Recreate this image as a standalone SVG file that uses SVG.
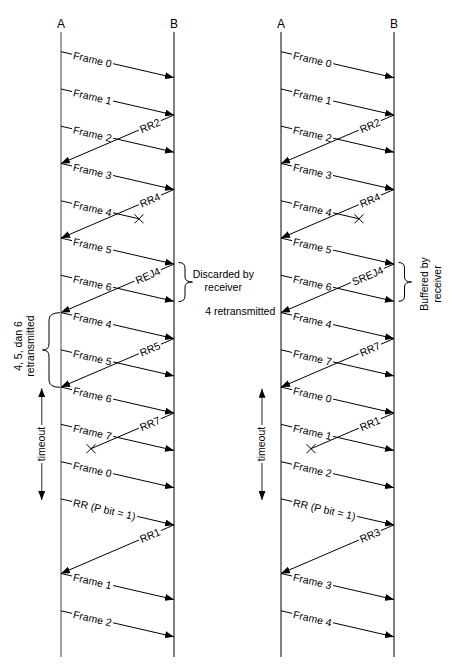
<svg xmlns="http://www.w3.org/2000/svg" width="454" height="669" viewBox="0 0 454 669">
<style>
.lbl{font-family:"Liberation Sans",Arial,sans-serif;font-size:10.5px;fill:#000}
.hd{font-family:"Liberation Sans",Arial,sans-serif;font-size:12px;fill:#000;text-anchor:middle}
.ln{stroke:#000;stroke-width:1;fill:none}
.ar{stroke:#000;stroke-width:1;fill:none;marker-end:url(#ah)}
.tm{stroke:#666;stroke-width:1.4;fill:none;marker-end:url(#ah)}
.bg{fill:#fff}
.mid{text-anchor:middle}
.end{text-anchor:end}
</style>
<defs>
<marker id="ah" markerUnits="userSpaceOnUse" markerWidth="9" markerHeight="7" refX="9" refY="3.5" orient="auto"><path d="M0,0 L9,3.5 L0,7 z" fill="#000"/></marker>
</defs>
<rect width="454" height="669" fill="#fff"/>

<!-- lifelines -->
<g id="left-A"><text class="hd" x="61" y="28.3">A</text><line x1="61" y1="32" x2="61" y2="657" stroke="#7a7a7a" stroke-width="1.4"/></g>
<g id="left-B"><text class="hd" x="174" y="28.3">B</text><line class="ln" x1="174" y1="32" x2="174" y2="657"/></g>
<g id="right-A"><text class="hd" x="281" y="28.3">A</text><line class="ln" x1="281" y1="32" x2="281" y2="657"/></g>
<g id="right-B"><text class="hd" x="394" y="28.3">B</text><line class="ln" x1="394" y1="32" x2="394" y2="657"/></g>

<!-- connectors -->
<g id="connectors">
<!-- left frames -->
<line class="ar" x1="61" y1="51.7" x2="174" y2="77.7"/>
<line class="ar" x1="61" y1="89" x2="174" y2="115"/>
<line class="ar" x1="61" y1="126.2" x2="174" y2="152.2"/>
<line class="ar" x1="61" y1="163.5" x2="174" y2="189.5"/>
<line class="ln" x1="61" y1="200.8" x2="139" y2="218.8"/>
<line class="ar" x1="61" y1="238.1" x2="174" y2="264.1"/>
<line class="ar" x1="61" y1="275.3" x2="174" y2="301.3"/>
<line class="ar" x1="61" y1="312.6" x2="174" y2="338.6"/>
<line class="ar" x1="61" y1="349.9" x2="174" y2="375.9"/>
<line class="ar" x1="61" y1="387.1" x2="174" y2="413.1"/>
<line class="ar" x1="61" y1="424.4" x2="174" y2="450.4"/>
<line class="ar" x1="61" y1="461.7" x2="174" y2="487.7"/>
<line class="ar" x1="61" y1="498.9" x2="174" y2="524.9"/>
<line class="ar" x1="61" y1="573.5" x2="174" y2="599.5"/>
<line class="ar" x1="61" y1="610.8" x2="174" y2="636.8"/>
<!-- left responses -->
<line class="ar" x1="174" y1="115" x2="61" y2="163.5"/>
<line class="ar" x1="174" y1="189.5" x2="61" y2="238.1"/>
<line class="ar" x1="174" y1="264.1" x2="61" y2="312.6"/>
<line class="ar" x1="174" y1="338.6" x2="61" y2="387.1"/>
<line class="ln" x1="174" y1="413.1" x2="91" y2="448.7"/>
<line class="ar" x1="174" y1="524.9" x2="61" y2="573.5"/>
<path class="ln" d="M134.5,214.3 L143.5,223.3 M134.5,223.3 L143.5,214.3"/>
<path class="ln" d="M86.5,444.2 L95.5,453.2 M86.5,453.2 L95.5,444.2"/>

<!-- right frames -->
<line class="ar" x1="281" y1="51.7" x2="394" y2="77.7"/>
<line class="ar" x1="281" y1="89" x2="394" y2="115"/>
<line class="ar" x1="281" y1="126.2" x2="394" y2="152.2"/>
<line class="ar" x1="281" y1="163.5" x2="394" y2="189.5"/>
<line class="ln" x1="281" y1="200.8" x2="359" y2="218.8"/>
<line class="ar" x1="281" y1="238.1" x2="394" y2="264.1"/>
<line class="ar" x1="281" y1="275.3" x2="394" y2="301.3"/>
<line class="ar" x1="281" y1="312.6" x2="394" y2="338.6"/>
<line class="ar" x1="281" y1="349.9" x2="394" y2="375.9"/>
<line class="ar" x1="281" y1="387.1" x2="394" y2="413.1"/>
<line class="ar" x1="281" y1="424.4" x2="394" y2="450.4"/>
<line class="ar" x1="281" y1="461.7" x2="394" y2="487.7"/>
<line class="ar" x1="281" y1="498.9" x2="394" y2="524.9"/>
<line class="ar" x1="281" y1="573.5" x2="394" y2="599.5"/>
<line class="ar" x1="281" y1="610.8" x2="394" y2="636.8"/>
<!-- right responses -->
<line class="ar" x1="394" y1="115" x2="281" y2="163.5"/>
<line class="ar" x1="394" y1="189.5" x2="281" y2="238.1"/>
<line class="ar" x1="394" y1="264.1" x2="281" y2="312.6"/>
<line class="ar" x1="394" y1="338.6" x2="281" y2="387.1"/>
<line class="ln" x1="394" y1="413.1" x2="311" y2="448.7"/>
<line class="ar" x1="394" y1="524.9" x2="281" y2="573.5"/>
<path class="ln" d="M354.5,214.3 L363.5,223.3 M354.5,223.3 L363.5,214.3"/>
<path class="ln" d="M306.5,444.2 L315.5,453.2 M306.5,453.2 L315.5,444.2"/>

<!-- left frame labels -->
<g transform="translate(73.5,54.58) rotate(12.97)"><rect class="bg" x="-1.5" y="-2" width="42.1" height="4"/><text class="lbl" y="4.2">Frame 0</text></g>
<g transform="translate(73.5,91.85) rotate(12.97)"><rect class="bg" x="-1.5" y="-2" width="42.1" height="4"/><text class="lbl" y="4.2">Frame 1</text></g>
<g transform="translate(73.5,129.12) rotate(12.97)"><rect class="bg" x="-1.5" y="-2" width="42.1" height="4"/><text class="lbl" y="4.2">Frame 2</text></g>
<g transform="translate(73.5,166.39) rotate(12.97)"><rect class="bg" x="-1.5" y="-2" width="42.1" height="4"/><text class="lbl" y="4.2">Frame 3</text></g>
<g transform="translate(73.5,203.66) rotate(12.97)"><rect class="bg" x="-1.5" y="-2" width="42.1" height="4"/><text class="lbl" y="4.2">Frame 4</text></g>
<g transform="translate(73.5,240.93) rotate(12.97)"><rect class="bg" x="-1.5" y="-2" width="42.1" height="4"/><text class="lbl" y="4.2">Frame 5</text></g>
<g transform="translate(73.5,278.2) rotate(12.97)"><rect class="bg" x="-1.5" y="-2" width="42.1" height="4"/><text class="lbl" y="4.2">Frame 6</text></g>
<g transform="translate(73.5,315.47) rotate(12.97)"><rect class="bg" x="-1.5" y="-2" width="42.1" height="4"/><text class="lbl" y="4.2">Frame 4</text></g>
<g transform="translate(73.5,352.74) rotate(12.97)"><rect class="bg" x="-1.5" y="-2" width="42.1" height="4"/><text class="lbl" y="4.2">Frame 5</text></g>
<g transform="translate(73.5,390.01) rotate(12.97)"><rect class="bg" x="-1.5" y="-2" width="42.1" height="4"/><text class="lbl" y="4.2">Frame 6</text></g>
<g transform="translate(73.5,427.28) rotate(12.97)"><rect class="bg" x="-1.5" y="-2" width="42.1" height="4"/><text class="lbl" y="4.2">Frame 7</text></g>
<g transform="translate(73.5,464.55) rotate(12.97)"><rect class="bg" x="-1.5" y="-2" width="42.1" height="4"/><text class="lbl" y="4.2">Frame 0</text></g>
<g transform="translate(73.5,501.82) rotate(12.97)"><rect class="bg" x="-1.5" y="-2" width="66.9" height="4"/><text class="lbl" y="4.2">RR (P bit = 1)</text></g>
<g transform="translate(73.5,576.36) rotate(12.97)"><rect class="bg" x="-1.5" y="-2" width="42.1" height="4"/><text class="lbl" y="4.2">Frame 1</text></g>
<g transform="translate(73.5,613.63) rotate(12.97)"><rect class="bg" x="-1.5" y="-2" width="42.1" height="4"/><text class="lbl" y="4.2">Frame 2</text></g>
<!-- left response labels -->
<g transform="translate(159.5,121.22) rotate(-23.23)"><rect class="bg" x="-22.5" y="-2" width="24" height="4"/><text class="lbl end" y="4">RR2</text></g>
<g transform="translate(159.5,195.72) rotate(-23.23)"><rect class="bg" x="-22.5" y="-2" width="24" height="4"/><text class="lbl end" y="4">RR4</text></g>
<g transform="translate(159.5,270.32) rotate(-23.23)"><rect class="bg" x="-27.2" y="-2" width="28.7" height="4"/><text class="lbl end" y="4">REJ4</text></g>
<g transform="translate(159.5,344.82) rotate(-23.23)"><rect class="bg" x="-22.5" y="-2" width="24" height="4"/><text class="lbl end" y="4">RR5</text></g>
<g transform="translate(159.5,419.32) rotate(-23.23)"><rect class="bg" x="-22.5" y="-2" width="24" height="4"/><text class="lbl end" y="4">RR7</text></g>
<g transform="translate(159.5,531.12) rotate(-23.23)"><rect class="bg" x="-22.5" y="-2" width="24" height="4"/><text class="lbl end" y="4">RR1</text></g>

<!-- right frame labels -->
<g transform="translate(293.5,54.58) rotate(12.97)"><rect class="bg" x="-1.5" y="-2" width="42.1" height="4"/><text class="lbl" y="4.2">Frame 0</text></g>
<g transform="translate(293.5,91.85) rotate(12.97)"><rect class="bg" x="-1.5" y="-2" width="42.1" height="4"/><text class="lbl" y="4.2">Frame 1</text></g>
<g transform="translate(293.5,129.12) rotate(12.97)"><rect class="bg" x="-1.5" y="-2" width="42.1" height="4"/><text class="lbl" y="4.2">Frame 2</text></g>
<g transform="translate(293.5,166.39) rotate(12.97)"><rect class="bg" x="-1.5" y="-2" width="42.1" height="4"/><text class="lbl" y="4.2">Frame 3</text></g>
<g transform="translate(293.5,203.66) rotate(12.97)"><rect class="bg" x="-1.5" y="-2" width="42.1" height="4"/><text class="lbl" y="4.2">Frame 4</text></g>
<g transform="translate(293.5,240.93) rotate(12.97)"><rect class="bg" x="-1.5" y="-2" width="42.1" height="4"/><text class="lbl" y="4.2">Frame 5</text></g>
<g transform="translate(293.5,278.2) rotate(12.97)"><rect class="bg" x="-1.5" y="-2" width="42.1" height="4"/><text class="lbl" y="4.2">Frame 6</text></g>
<g transform="translate(293.5,315.47) rotate(12.97)"><rect class="bg" x="-1.5" y="-2" width="42.1" height="4"/><text class="lbl" y="4.2">Frame 4</text></g>
<g transform="translate(293.5,352.74) rotate(12.97)"><rect class="bg" x="-1.5" y="-2" width="42.1" height="4"/><text class="lbl" y="4.2">Frame 7</text></g>
<g transform="translate(293.5,390.01) rotate(12.97)"><rect class="bg" x="-1.5" y="-2" width="42.1" height="4"/><text class="lbl" y="4.2">Frame 0</text></g>
<g transform="translate(293.5,427.28) rotate(12.97)"><rect class="bg" x="-1.5" y="-2" width="42.1" height="4"/><text class="lbl" y="4.2">Frame 1</text></g>
<g transform="translate(293.5,464.55) rotate(12.97)"><rect class="bg" x="-1.5" y="-2" width="42.1" height="4"/><text class="lbl" y="4.2">Frame 2</text></g>
<g transform="translate(293.5,501.82) rotate(12.97)"><rect class="bg" x="-1.5" y="-2" width="66.9" height="4"/><text class="lbl" y="4.2">RR (P bit = 1)</text></g>
<g transform="translate(293.5,576.36) rotate(12.97)"><rect class="bg" x="-1.5" y="-2" width="42.1" height="4"/><text class="lbl" y="4.2">Frame 3</text></g>
<g transform="translate(293.5,613.63) rotate(12.97)"><rect class="bg" x="-1.5" y="-2" width="42.1" height="4"/><text class="lbl" y="4.2">Frame 4</text></g>
<!-- right response labels -->
<g transform="translate(379.5,121.22) rotate(-23.23)"><rect class="bg" x="-22.5" y="-2" width="24" height="4"/><text class="lbl end" y="4">RR2</text></g>
<g transform="translate(379.5,195.72) rotate(-23.23)"><rect class="bg" x="-22.5" y="-2" width="24" height="4"/><text class="lbl end" y="4">RR4</text></g>
<g transform="translate(382.5,269.26) rotate(-23.23)"><rect class="bg" x="-34.2" y="-2" width="35.7" height="4"/><text class="lbl end" y="4">SREJ4</text></g>
<g transform="translate(379.5,344.82) rotate(-23.23)"><rect class="bg" x="-22.5" y="-2" width="24" height="4"/><text class="lbl end" y="4">RR7</text></g>
<g transform="translate(379.5,419.32) rotate(-23.23)"><rect class="bg" x="-22.5" y="-2" width="24" height="4"/><text class="lbl end" y="4">RR1</text></g>
<g transform="translate(379.5,531.12) rotate(-23.23)"><rect class="bg" x="-22.5" y="-2" width="24" height="4"/><text class="lbl end" y="4">RR3</text></g>

<!-- timeout arrows -->
<line class="tm" x1="41.7" y1="425" x2="41.7" y2="388.3"/>
<line class="tm" x1="41.7" y1="463" x2="41.7" y2="500"/>
<line class="tm" x1="262" y1="425" x2="262" y2="388.8"/>
<line class="tm" x1="262" y1="463" x2="262" y2="500"/>
</g>

<!-- notes -->
<g id="note-discarded">
<path class="ln" d="M178.5,262.5 Q185,262.5 185,268 L185,277 Q185,282 192.5,282 Q185,282 185,287 L185,296 Q185,301.5 178.5,301.5"/>
<text class="lbl mid" x="223.3" y="278">Discarded by</text>
<text class="lbl mid" x="223.3" y="290.5">receiver</text>
</g>
<g id="note-retransmitted-left">
<path class="ln" d="M60,312.7 Q49,312.7 49,320 L49,344 Q49,350 42.5,350 Q49,350 49,356 L49,380 Q49,387.3 60,387.3"/>
<text class="lbl mid" transform="translate(22,346) rotate(-90)">4, 5, dan 6</text>
<text class="lbl mid" transform="translate(33.5,346) rotate(-90)">retransmitted</text>
</g>
<g id="note-timeout-left"><text class="lbl mid" transform="translate(44.9,444) rotate(-90)">timeout</text></g>
<g id="note-retransmitted-right"><text class="lbl end" x="275.3" y="315.3">4 retransmitted</text></g>
<g id="note-buffered">
<path class="ln" d="M398.5,262.5 Q404.5,262.5 404.5,268 L404.5,277 Q404.5,282 411.5,282 Q404.5,282 404.5,287 L404.5,296 Q404.5,301.3 398.5,301.3"/>
<text class="lbl mid" transform="translate(428.3,284) rotate(-90)">Buffered by</text>
<text class="lbl mid" transform="translate(440.5,284) rotate(-90)">receiver</text>
</g>
<g id="note-timeout-right"><text class="lbl mid" transform="translate(265.2,444) rotate(-90)">timeout</text></g>
</svg>
